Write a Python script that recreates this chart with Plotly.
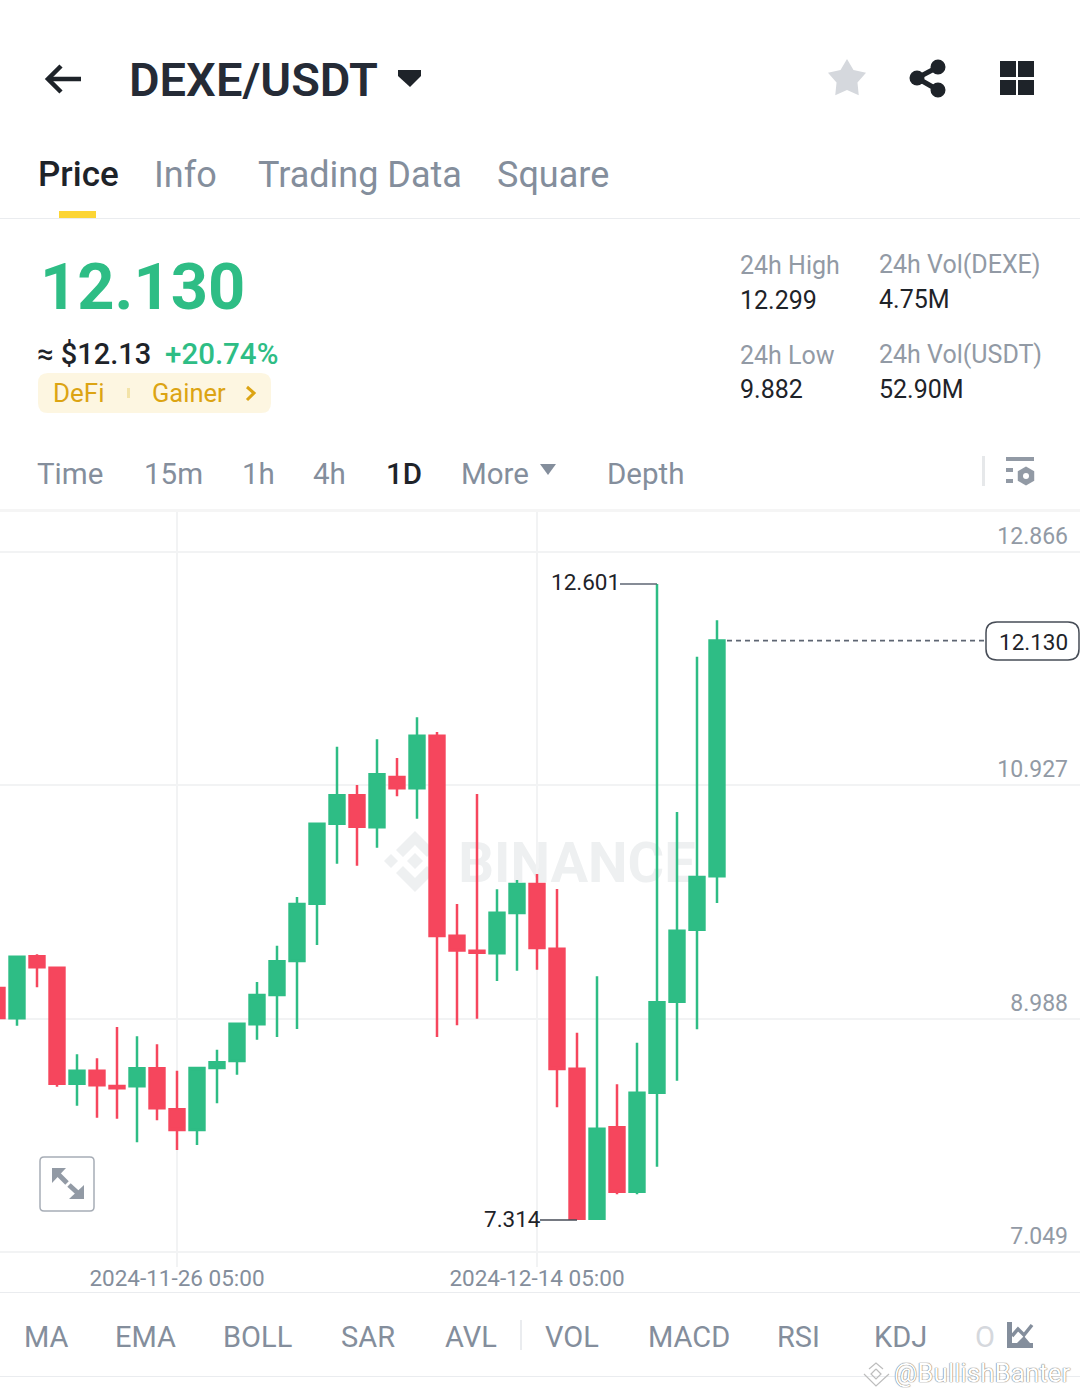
import math
import plotly.graph_objects as go

# candle data
dates = ["2024-11-17 05:00", "2024-11-18 05:00", "2024-11-19 05:00", "2024-11-20 05:00", "2024-11-21 05:00",
         "2024-11-22 05:00", "2024-11-23 05:00", "2024-11-24 05:00", "2024-11-25 05:00", "2024-11-26 05:00",
         "2024-11-27 05:00", "2024-11-28 05:00", "2024-11-29 05:00", "2024-11-30 05:00", "2024-12-01 05:00",
         "2024-12-02 05:00", "2024-12-03 05:00", "2024-12-04 05:00", "2024-12-05 05:00", "2024-12-06 05:00",
         "2024-12-07 05:00", "2024-12-08 05:00", "2024-12-09 05:00", "2024-12-10 05:00", "2024-12-11 05:00",
         "2024-12-12 05:00", "2024-12-13 05:00", "2024-12-14 05:00", "2024-12-15 05:00", "2024-12-16 05:00",
         "2024-12-17 05:00", "2024-12-18 05:00", "2024-12-19 05:00", "2024-12-20 05:00", "2024-12-21 05:00",
         "2024-12-22 05:00", "2024-12-23 05:00"]
opens = [9.243, 8.991, 9.506, 9.412, 8.448, 8.556, 8.429, 8.426, 8.576, 8.235,
         8.063, 8.578, 8.636, 8.941, 9.185, 9.467, 9.943, 10.608, 10.844, 10.578,
         10.996, 10.902, 11.339, 9.678, 9.553, 9.531, 9.866, 10.107, 9.570, 8.572,
         7.326, 8.085, 7.550, 8.373, 9.129, 9.727, 10.171]
highs = [9.300, 9.511, 9.523, 9.415, 8.692, 8.659, 8.919, 8.842, 8.775, 8.556,
         8.578, 8.730, 8.952, 9.293, 9.594, 9.999, 10.612, 11.248, 10.930, 11.310,
         11.154, 11.492, 11.370, 9.941, 10.855, 10.063, 10.140, 10.190, 10.066, 8.871,
         9.340, 8.443, 8.788, 12.601, 10.705, 11.996, 12.299]
lows = [8.950, 8.930, 9.249, 8.423, 8.265, 8.165, 8.157, 7.961, 8.144, 7.897,
        7.938, 8.285, 8.522, 8.813, 8.836, 8.902, 9.600, 10.276, 10.259, 10.409,
        10.836, 10.650, 8.836, 8.933, 8.988, 9.301, 9.387, 9.395, 8.252, 7.314,
        7.315, 7.529, 7.529, 7.758, 8.473, 8.900, 9.949]
closes = [8.994, 9.503, 9.415, 8.448, 8.556, 8.434, 8.409, 8.576, 8.243, 8.063,
          8.578, 8.625, 8.946, 9.185, 9.465, 9.941, 10.608, 10.844, 10.583, 11.019,
          10.902, 11.339, 9.675, 9.555, 9.536, 9.869, 10.107, 9.575, 8.570, 7.326,
          8.074, 7.550, 8.373, 9.124, 9.719, 10.165, 12.130]

price_ticks = [12.866, 10.927, 8.988, 7.049]
date_ticks = ["2024-11-26 05:00", "2024-12-14 05:00"]
high_label = 12.601
low_label = 7.314
last_price = 12.130

tabs = ["Price", "Info", "Trading Data", "Square"]
intervals = ["Time", "15m", "1h", "4h", "1D", "More", "Depth"]
indicators = ["MA", "EMA", "BOLL", "SAR", "AVL", "VOL", "MACD", "RSI", "KDJ", "O"]

W, H = 1080, 1395
GREEN = "#2ebd85"
RED = "#f6465d"
DARK = "#1e2329"
GREY = "#848e9c"
LIGHT = "#929aa5"
GRID = "#f2f3f4"
FONT = "Roboto"


def px(x):
    return x / W


def py(y):
    return 1 - y / H


def path(points, closed=True):
    d = "M " + " L ".join(f"{px(x):.5f} {py(y):.5f}" for x, y in points)
    return d + (" Z" if closed else "")


def rrect(x0, y0, x1, y1, r):
    a = [(x0 + r, y0), (x1 - r, y0), (x1, y0), (x1, y0 + r), (x1, y1 - r), (x1, y1),
         (x1 - r, y1), (x0 + r, y1), (x0, y1), (x0, y1 - r), (x0, y0 + r), (x0, y0), (x0 + r, y0)]
    f = lambda p: f"{px(p[0]):.5f} {py(p[1]):.5f}"
    return (f"M {f(a[0])} L {f(a[1])} Q {f(a[2])} {f(a[3])} L {f(a[4])} Q {f(a[5])} {f(a[6])} "
            f"L {f(a[7])} Q {f(a[8])} {f(a[9])} L {f(a[10])} Q {f(a[11])} {f(a[12])} Z")


shapes = []
annotations = []


def fill(points, color, layer="above"):
    shapes.append(dict(type="path", xref="paper", yref="paper", path=path(points), fillcolor=color,
                       line=dict(width=0), layer=layer))


def stroke(points, color, width):
    shapes.append(dict(type="path", xref="paper", yref="paper", path=path(points, closed=False),
                       line=dict(color=color, width=width)))


def box(x0, y0, x1, y1, color):
    fill([(x0, y0), (x1, y0), (x1, y1), (x0, y1)], color)


def circle(x, y, r, color):
    shapes.append(dict(type="circle", xref="paper", yref="paper", x0=px(x - r), x1=px(x + r),
                       y0=py(y + r), y1=py(y - r), fillcolor=color, line=dict(width=0)))


def label(text, x, y, size, color, anchor="left", weight=None, **font):
    # annotation boxes pad the text by about 2px
    nudge = {"left": -2, "right": 2, "center": 0}[anchor]
    annotations.append(dict(text=text, x=px(x + nudge), y=py(y), xref="paper", yref="paper", showarrow=False,
                            xanchor=anchor, yanchor="middle", borderpad=0,
                            font=dict(family=FONT, size=size, color=color, weight=weight, **font)))


# header
stroke([(61, 66), (48, 79), (61, 92)], DARK, 4.5)
stroke([(48, 79), (81, 79)], DARK, 4.5)
label("DEXE/USDT", 130, 80, 47, "#252b36", weight=600)
fill([(398, 70), (421, 70), (421, 76), (410, 87), (398, 76)], DARK)

star = []
for i in range(10):
    r = 20 if i % 2 == 0 else 11
    a = -math.pi / 2 + i * math.pi / 5
    star.append((847 + r * math.cos(a), 79 + r * math.sin(a)))
fill(star, "#d5d8dd")

stroke([(938, 67), (917, 78), (938, 90)], DARK, 5)
circle(938, 67, 7.5, DARK)
circle(917, 78, 7.5, DARK)
circle(938, 90, 7.5, DARK)

box(1000, 61, 1016, 77, DARK)
box(1018, 61, 1034, 77, DARK)
box(1000, 80, 1016, 95, DARK)
box(1018, 80, 1034, 95, DARK)

# tabs
tab_x = [39, 155, 259, 498]
for i, t in enumerate(tabs):
    label(t, tab_x[i], 174.5, 35 if i == 0 else 36, DARK if i == 0 else GREY, weight=500 if i == 0 else None)
box(59, 211, 96, 218, "#fcd535")
box(0, 218, W, 219, "#eaecef")

# price block
label("12.130", 41, 287, 65, GREEN, weight=700)
label("≈ $12.13", 38, 354, 29, DARK, weight=500)
label("+20.74%", 166, 354, 29.5, GREEN, weight=500)
shapes.append(dict(type="path", xref="paper", yref="paper", path=rrect(38, 373, 271, 413, 10),
                   fillcolor="#fdf6e1", line=dict(width=0)))
label("DeFi", 54, 393, 26, "#dca413")
box(127, 388, 130, 398, "#f3e3a8")
label("Gainer", 153, 393, 25.5, "#dca413")
stroke([(247, 387), (254, 393), (247, 400)], "#dca413", 3)

stat_names = ["24h High", "24h Low", "24h Vol(DEXE)", "24h Vol(USDT)"]
stat_values = ["12.299", "9.882", "4.75M", "52.90M"]
stat_x = [741, 741, 880, 880]
stat_y = [265, 355, 264.5, 354.5]
for i in range(4):
    label(stat_names[i], stat_x[i], stat_y[i], 25, LIGHT)
    label(stat_values[i], stat_x[i], stat_y[i] + 35, 25, DARK)

# interval row
interval_x = [38, 145, 243, 314, 387, 462, 608]
for i, t in enumerate(intervals):
    label(t, interval_x[i], 474, 29.5, DARK if t == "1D" else GREY, weight=500 if t == "1D" else None)
fill([(540, 464), (556, 464), (548, 475)], GREY)
box(982, 456, 985, 486, "#e6e8ea")
box(1006, 457, 1034, 461, LIGHT)
box(1006, 468, 1013, 472, LIGHT)
box(1006, 479, 1013, 483, LIGHT)
hexagon = [(1026 + 9.5 * math.cos(math.pi / 6 + k * math.pi / 3), 476 + 9.5 * math.sin(math.pi / 6 + k * math.pi / 3))
           for k in range(6)]
fill(hexagon, LIGHT)
circle(1026, 476, 3, "white")
box(0, 509, W, 512, "#f5f5f5")

# watermark, below the candles
def under(points):
    fill(points, "#eef0f1", layer="below")


under([(415, 831), (434, 850), (427, 857), (415, 845), (403, 857), (396, 850)])
under([(415, 892), (434, 873), (427, 866), (415, 878), (403, 866), (396, 873)])
under([(415, 853), (423, 861), (415, 869), (407, 861)])
under([(391, 854), (398, 861), (391, 868), (384, 861)])
under([(439, 854), (446, 861), (439, 868), (432, 861)])
shapes.append(dict(type="rect", xref="paper", yref="paper", x0=px(458), x1=px(696), y0=py(882), y1=py(835),
                   layer="below", line=dict(width=0),
                   label=dict(text="<b>BINANCE</b>", textposition="middle center",
                              font=dict(family=FONT, size=56, color="#eef0f1"))))

# high / low / last price markers
label(f"{high_label:.3f}", 619, 582, 22.5, DARK, anchor="right")
shapes.append(dict(type="line", xref="paper", yref="y", x0=px(620), x1=px(657), y0=high_label, y1=high_label,
                   line=dict(color="#5e6673", width=1.5)))
label(f"{low_label:.3f}", 540, 1219, 22.5, DARK, anchor="right")
shapes.append(dict(type="line", xref="paper", yref="y", x0=px(540), x1=px(577), y0=low_label, y1=low_label,
                   line=dict(color="#474d57", width=1.5)))
shapes.append(dict(type="line", xref="paper", yref="y", x0=px(727), x1=px(984), y0=last_price, y1=last_price,
                   line=dict(color="#5e6673", width=1.8, dash="5px,4px")))
shapes.append(dict(type="path", xref="paper", yref="paper", path=rrect(986, 622, 1079, 660, 11),
                   fillcolor="white", line=dict(color="#474d57", width=1.5)))
label(f"{last_price:.3f}", 1033, 642, 22.5, DARK, anchor="center")

# expand button
shapes.append(dict(type="path", xref="paper", yref="paper", path=rrect(40, 1157, 94, 1211, 4),
                   fillcolor="white", line=dict(color="#a7adb6", width=1.5)))
fill([(52, 1168), (66, 1168), (52, 1183)], LIGHT)
fill([(84, 1199), (69, 1199), (84, 1185)], LIGHT)
stroke([(56, 1172), (67, 1183)], LIGHT, 5)
stroke([(69, 1185), (80, 1195)], LIGHT, 5)

# indicator row
box(0, 1292, W, 1293, "#eaecef")
indicator_x = [25, 116, 224, 342, 446, 546, 649, 778, 875, 976]
for i, t in enumerate(indicators):
    label(t, indicator_x[i], 1337, 29, "#d5d8dd" if t == "O" else GREY)
box(520, 1320, 522, 1350, "#eaecef")
box(1007, 1322, 1012, 1348, GREY)
box(1007, 1343, 1033, 1348, GREY)
stroke([(1012, 1336), (1018, 1329), (1024, 1335), (1032, 1325)], GREY, 3.5)
fill([(1017, 1343), (1030, 1343), (1024, 1336)], GREY)
box(0, 1376, W, 1377, "#eaecef")

# screenshot watermark
stroke([(864, 1374), (876, 1386), (889, 1374)], "#bdbdbd", 1.2)
stroke([(869, 1369), (876, 1363), (883, 1369)], "#bdbdbd", 1.2)
stroke([(876, 1369), (881, 1374), (876, 1379), (871, 1374), (876, 1369)], "#bdbdbd", 1.2)
label("@BullishBanter", 895, 1373, 26, "white", shadow="0 0 1px #666, 0 0 1px #666")

fig = go.Figure(go.Candlestick(
    x=dates, open=opens, high=highs, low=lows, close=closes,
    increasing=dict(line=dict(color=GREEN, width=2.5), fillcolor=GREEN),
    decreasing=dict(line=dict(color=RED, width=2.5), fillcolor=RED),
    whiskerwidth=0, hoverinfo="skip", showlegend=False,
))

fig.update_layout(
    width=W, height=H, autosize=False,
    margin=dict(l=0, r=0, t=0, b=0, pad=0),
    paper_bgcolor="white", plot_bgcolor="white",
    showlegend=False, boxgap=0.137, boxgroupgap=0.137,
    shapes=shapes, annotations=annotations,
    font=dict(family=FONT),
    xaxis=dict(
        type="date", range=["2024-11-17 08:36", "2025-01-10 08:36"],
        rangeslider=dict(visible=False), domain=[0, 1], anchor="y",
        tickmode="array", tickvals=date_ticks, ticktext=date_ticks,
        tickfont=dict(size=22.5, color=GREY), ticklabelstandoff=-5,
        showgrid=True, gridcolor=GRID, gridwidth=1.5,
        ticks="", zeroline=False, showline=False,
    ),
    yaxis=dict(
        range=[6.9244, 13.2067], domain=[py(1267), py(511)], side="right",
        tickmode="array", tickvals=price_ticks, ticktext=[f"{v:.3f}" for v in price_ticks],
        ticklabelposition="inside top", ticklabelstandoff=9,
        tickfont=dict(size=23, color=LIGHT), showgrid=True, gridcolor=GRID, gridwidth=1.5,
        ticks="", zeroline=False, showline=False,
    ),
)

fig.write_html("out.html", config={"displayModeBar": False},
               post_script="document.body.style.margin='0';")
